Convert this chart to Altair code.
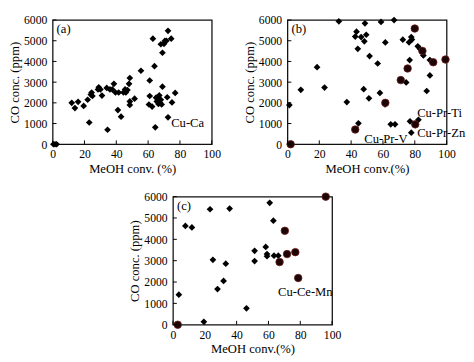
import altair as alt
import pandas as pd

FONT = "Liberation Serif"
W = 164

tick_x = [0, 20, 40, 60, 80, 100]
tick_y = [0, 1000, 2000, 3000, 4000, 5000, 6000]

# ---- panel (a): Cu-Ca (diamonds only)
a_dia_x = [0.5, 1.5, 2.5, 12, 14, 16, 19.5, 22, 23, 24, 24.5, 25, 28.5, 29, 30, 31, 34, 34.5, 36, 37.5,
           38.5, 39.5, 41, 41.5, 43, 44.5, 45.5, 46, 47, 48, 48.5, 48.5, 48.5, 51.5, 55.5, 61, 61, 60.5,
           62.5, 63, 64, 64.5, 65, 65.5, 66, 67, 67.5, 68, 68.5, 69, 69, 70, 70.5, 71.5, 72, 72.5, 72.5,
           74.5, 75, 77, 67, 68, 66.5]
a_dia_y = [0, 0, 0, 2000, 1750, 2050, 1850, 2150, 1050, 2400, 2500, 2330, 2650, 2750, 2650, 2350, 2720, 700, 2650, 2650,
           2920, 2500, 1650, 2500, 1330, 2500, 2650, 2500, 2620, 2920, 3200, 1900, 2070, 2200, 3550, 3080, 2330, 1920,
           1820, 5100, 3770, 820, 2250, 2070, 2200, 2360, 2000, 4830, 1920, 2780, 4420, 4850, 4990, 5000, 2270, 1300, 5480,
           5100, 2020, 2480, 2100, 2150, 1950]
a_cir_x = []
a_cir_y = []
a_lab_x = [2.5, 74.5]
a_lab_y = [5550, 1000]
a_lab_t = ["(a)", "Cu-Ca"]

# ---- panel (b): Cu-Pr-Ti / Cu-Pr-Zn / Cu-Pr-V
b_dia_x = [1.2, 8.4, 18.6, 23.3, 32.3, 37.3, 43.4, 42.6, 46.3, 44.2, 48.7, 48.3, 49.5, 51.6, 47.9, 51.2, 44.6,
           56.7, 58.1, 58.8, 61.5, 61.3, 64.9, 67.6, 67, 72.5, 74.6, 76.8, 76.4, 77.8, 78.2, 77, 77.8, 82.3,
           81.9, 83.3, 85.4, 89.5, 87.5, 89.5]
b_dia_y = [1890, 2630, 3725, 2740, 5940, 2040, 5440, 5200, 5175, 4610, 5840, 4970, 5290, 4260, 2660, 2220, 1010,
           3900, 2480, 5910, 4920, 1920, 960, 960, 6000, 5050, 2985, 4066, 4922, 5175, 5055, 1110, 560, 1180,
           4730, 4610, 4290, 4066, 2572, 3326]
b_cir_x = [2, 42.6, 61.5, 71.2, 75.5, 80, 84.8, 91.6, 99.3, 80.3]
b_cir_y = [0, 710, 2000, 3100, 3660, 5590, 4510, 3960, 4093, 960]
b_lab_x = [2.5, 81.5, 81.5, 48.3]
b_lab_y = [5550, 1500, 560, 270]
b_lab_t = ["(b)", "Cu-Pr-Ti", "Cu-Pr-Zn", "Cu-Pr-V"]

# ---- panel (c): Cu-Ce-Mn
c_dia_x = [3.7, 7.8, 11.9, 23.3, 35.6, 25.1, 33.2, 31.8, 28, 19.4, 46.2, 60.8, 63.1, 51.3, 51.3, 58.3, 59.1,
           59.1, 63.5, 66.2]
c_dia_y = [1410, 4630, 4560, 5410, 5440, 3040, 2860, 2050, 1670, 140, 770, 5710, 4875, 3460, 2980, 3645, 3310,
           3210, 3235, 3235]
c_cir_x = [3, 70.3, 67, 71.7, 76.9, 78.7, 96]
c_cir_y = [0, 4400, 2935, 3310, 3400, 2190, 6000]
c_lab_x = [2.5, 66]
c_lab_y = [5550, 1520]
c_lab_t = ["(c)", "Cu-Ce-Mn"]


def panel(dx, dy, cx, cy, lx, ly, lt, xtitle, H):
    xs = alt.Scale(domain=[0, 100], nice=False, zero=False)
    ys = alt.Scale(domain=[0, 6000], nice=False, zero=False)
    xax = alt.Axis(values=tick_x, title=xtitle, tickSize=0, labelPadding=5, domain=False, format="d",
                   grid=False, titlePadding=3, labelFlush=False, labelOverlap=False, labelSeparation=0)
    yax = alt.Axis(values=tick_y, title="CO conc. (ppm)", tickSize=0, labelPadding=6, domain=False,
                   format="d", grid=False, titlePadding=2, labelFlush=False, labelOverlap=False)
    X = alt.X("x:Q", scale=xs, axis=xax)
    Y = alt.Y("y:Q", scale=ys, axis=yax)
    layers = []
    dia = alt.Chart(pd.DataFrame({"x": dx, "y": dy})).mark_point(
        shape="diamond", filled=True, size=48, color="black", opacity=1, clip=False
    ).encode(x=X, y=Y)
    layers.append(dia)
    if cx:
        cir = alt.Chart(pd.DataFrame({"x": cx, "y": cy})).mark_point(
            shape="circle", filled=True, size=60, fill="#1c0505", stroke="#6a1a1a",
            strokeWidth=0.8, opacity=1, clip=False
        ).encode(x=X, y=Y)
        layers.append(cir)
    tx = alt.Chart(pd.DataFrame({"x": tick_x})).mark_rule(color="black", strokeWidth=1).encode(
        x=X, y=alt.value(H), y2=alt.value(H - 4))
    ty = alt.Chart(pd.DataFrame({"y": tick_y})).mark_rule(color="black", strokeWidth=1).encode(
        y=Y, x=alt.value(0), x2=alt.value(4))
    labs = alt.Chart(pd.DataFrame({"x": lx, "y": ly, "t": lt})).mark_text(
        align="left", baseline="middle", font=FONT, fontSize=13, color="black", clip=False
    ).encode(x=X, y=Y, text="t:N")
    layers += [tx, ty, labs]
    return alt.layer(*layers).properties(width=W, height=H)


pa = panel(a_dia_x, a_dia_y, a_cir_x, a_cir_y, a_lab_x, a_lab_y, a_lab_t, "MeOH conv. (%)", 128)
pb = panel(b_dia_x, b_dia_y, b_cir_x, b_cir_y, b_lab_x, b_lab_y, b_lab_t, "MeOH conv.(%)", 128)
pc = panel(c_dia_x, c_dia_y, c_cir_x, c_cir_y, c_lab_x, c_lab_y, c_lab_t, "MeOH conv.(%)", 132)

spacer = alt.Chart(pd.DataFrame({"s": [0]})).mark_point(opacity=0).encode(
    x=alt.value(0), y=alt.value(0)
).properties(width=124, height=1, view=alt.ViewBackground(stroke="transparent"))

top = alt.hconcat(pa, pb, spacing=78, bounds="flush")
bottom = alt.hconcat(spacer, pc, spacing=0, bounds="flush")
chart = alt.vconcat(top, bottom, spacing=14).properties(
    padding={"left": 0, "top": 0, "right": 0, "bottom": 0}
).configure_view(stroke="#111", strokeWidth=1.3).configure_axis(
    labelFont=FONT, titleFont=FONT, labelFontSize=12, titleFontSize=13,
    titleFontWeight="normal", labelColor="black", titleColor="black", labelOverlap=False
)

chart.save("out.html", embed_options={"renderer": "svg", "actions": False})
